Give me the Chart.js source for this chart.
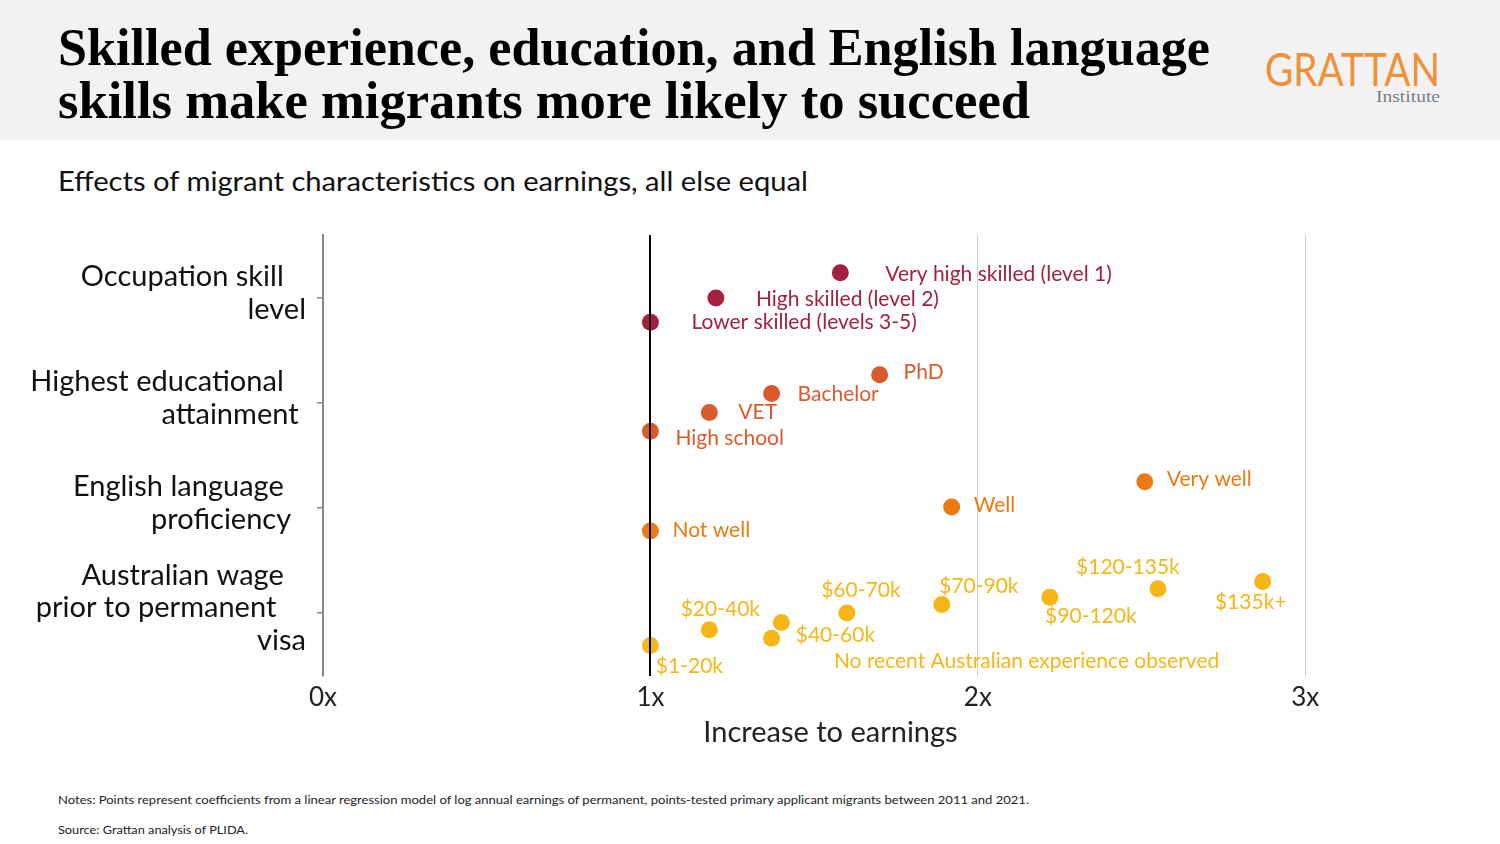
<!DOCTYPE html>
<html>
<head>
<meta charset="utf-8">
<script src="https://cdn.jsdelivr.net/npm/chart.js@4"></script>
<style>
  html, body { margin: 0; padding: 0; background: #fff; }
  body { width: 1500px; height: 844px; position: relative; overflow: hidden; font-family: Lato, "Noto Sans", sans-serif; color: #111; }
  .band { position: absolute; left: 0; top: 0; width: 1500px; height: 140px; background: #f2f2f2; }
  .fit { position: absolute; white-space: nowrap; transform-origin: 0 0; }
  .title { font-family: "Liberation Serif", serif; font-weight: bold; font-size: 53px; line-height: 53px; color: #000; left: 58px; }
  .logo { font-family: Lato, sans-serif; font-weight: 400; font-size: 46px; line-height: 1.2; color: #f0913a; left: 1265px; top: 41px; }
  .inst { font-family: "Liberation Serif", serif; font-size: 17px; line-height: 17px; color: #7b8087; left: 1376px; top: 88px; }
  .sub { font-size: 26px; line-height: 1.2; left: 58px; top: 166px; color: #111; }
  .note { font-size: 12px; line-height: 1.2; left: 58px; color: #222; }
  #wrap { position: absolute; left: 0; top: 220px; width: 1500px; height: 540px; }
</style>
</head>
<body>
<div class="band"></div>
<div class="fit title" data-w="1152" style="top:21px">Skilled experience, education, and English language</div>
<div class="fit title" data-w="972" style="top:74px">skills make migrants more likely to succeed</div>
<div class="fit logo" data-w="175">GRATTAN</div>
<div class="fit inst" data-w="64">Institute</div>
<div class="fit sub" data-w="750">Effects of migrant characteristics on earnings, all else equal</div>
<div id="wrap"><canvas id="chart"></canvas></div>
<div class="fit note" data-w="971" style="top:793px">Notes: Points represent coefficients from a linear regression model of log annual earnings of permanent, points-tested primary applicant migrants between 2011 and 2021.</div>
<div class="fit note" data-w="190" style="top:823px">Source: Grattan analysis of PLIDA.</div>

<script>
// categories on the y axis (bottom to top)
const categoryNames = [
  ["Australian wage   ", "prior to permanent    ", "visa"],
  ["English language   ", "proficiency  "],
  ["Highest educational   ", "attainment "],
  ["Occupation skill   ", "level"]
];
const categoryPos = [0, 1, 2, 3];
const xTicks = [0, 1, 2, 3];

// occupation skill level
const occLabels = ["Very high skilled (level 1)", "High skilled (level 2)", "Lower skilled (levels 3-5)"];
const occX = [1.58, 1.20, 1.0];
const occY = [3.24, 3.0, 2.77];

// highest educational attainment
const eduLabels = ["PhD", "Bachelor", "VET", "High school"];
const eduX = [1.70, 1.37, 1.18, 1.0];
const eduY = [2.27, 2.09, 1.91, 1.73];

// english proficiency
const engLabels = ["Very well", "Well", "Not well"];
const engX = [2.51, 1.92, 1.0];
const engY = [1.25, 1.01, 0.78];

// australian wage before permanent visa
const wageLabels = ["$135k+", "$120-135k", "$90-120k", "$70-90k", "$60-70k", "$40-60k", "$20-40k",
  "No recent Australian experience observed", "$1-20k"];
const wageX = [2.87, 2.55, 2.22, 1.89, 1.60, 1.40, 1.18, 1.37, 1.0];
const wageY = [0.30, 0.23, 0.15, 0.08, 0.0, -0.09, -0.16, -0.24, -0.31];

// label placement relative to each point: [dx, dy, align]
const occPlace = [[45, 1, "left"], [40, 1, "left"], [41, 0, "left"]];
const eduPlace = [[24, -2, "left"], [26, 1, "left"], [29, 0, "left"], [25, 7, "left"]];
const engPlace = [[22, -3, "left"], [22, -2, "left"], [22, -1, "left"]];
const wagePlace = [[-12, 21, "center"], [-30, -22, "center"], [41, 19, "center"], [37, -18, "center"],
  [14, -23, "center"], [54, 13, "center"], [11, -21, "center"], [255, 23, "center"], [39, 21, "center"]];

function fitAll() {
  document.querySelectorAll(".fit").forEach(el => {
    const target = parseFloat(el.dataset.w);
    const w = el.getBoundingClientRect().width;
    if (w > 0) el.style.transform = "scaleX(" + (target / w) + ")";
  });
}

function pts(xs, ys) {
  return xs.map((x, i) => ({ x: x, y: ys[i] }));
}

function makeSet(name, xs, ys, labels, place, color) {
  return {
    label: name,
    data: pts(xs, ys),
    names: labels,
    place: place,
    backgroundColor: color,
    borderWidth: 0,
    pointRadius: 8.5,
    pointHoverRadius: 8.5
  };
}

const pointLabels = {
  id: "pointLabels",
  afterDatasetsDraw(chart) {
    const ctx = chart.ctx;
    const xs = chart.scales.x;
    // the 1x reference line sits over the points
    const x1 = Math.round(xs.getPixelForValue(1));
    ctx.save();
    ctx.strokeStyle = "#000";
    ctx.lineWidth = 2;
    ctx.beginPath();
    ctx.moveTo(x1, chart.chartArea.top);
    ctx.lineTo(x1, chart.chartArea.bottom);
    ctx.stroke();

    ctx.font = "21px Lato, sans-serif";
    ctx.textBaseline = "middle";
    chart.data.datasets.forEach((ds, di) => {
      const meta = chart.getDatasetMeta(di);
      ctx.fillStyle = ds.backgroundColor;
      meta.data.forEach((el, i) => {
        const p = ds.place[i];
        ctx.textAlign = p[2];
        ctx.fillText(ds.names[i], el.x + p[0], el.y + p[1]);
      });
    });
    ctx.restore();
  }
};

document.addEventListener("DOMContentLoaded", function() {
  fitAll();
  const ctx = document.getElementById("chart").getContext("2d");
  new Chart(ctx, {
    type: "scatter",
    data: {
      datasets: [
        makeSet("Occupation", occX, occY, occLabels, occPlace, "#a3213f"),
        makeSet("Education", eduX, eduY, eduLabels, eduPlace, "#d95b2b"),
        makeSet("English", engX, engY, engLabels, engPlace, "#eb7a10"),
        makeSet("Wage", wageX, wageY, wageLabels, wagePlace, "#f5b617")
      ]
    },
    options: {
      responsive: true,
      maintainAspectRatio: false,
      animation: false,
      events: [],
      layout: { padding: { top: 15, right: 162, left: 0, bottom: 0 } },
      plugins: { legend: { display: false }, tooltip: { enabled: false } },
      scales: {
        x: {
          type: "linear",
          min: 0,
          max: 3.1,
          afterBuildTicks: s => { s.ticks = xTicks.map(v => ({ value: v })); },
          afterFit: s => { s.height = 84; s.paddingLeft = 0; s.paddingRight = 0; },
          grid: {
            drawTicks: false,
            color: c => (c.tick && (c.tick.value === 2 || c.tick.value === 3)) ? "#cccccc" : "rgba(0,0,0,0)",
            lineWidth: 1
          },
          border: { display: false },
          ticks: {
            padding: 6,
            color: "#222",
            font: { family: "Lato", size: 26 },
            callback: v => v + "x"
          },
          title: {
            display: true,
            text: "Increase to earnings",
            color: "#222",
            font: { family: "Lato", size: 29 },
            padding: { top: 0, bottom: 10 }
          }
        },
        y: {
          type: "linear",
          min: -0.6,
          max: 3.6,
          afterBuildTicks: s => { s.ticks = categoryPos.map(v => ({ value: v })); },
          afterFit: s => { s.width = 323; s.paddingTop = 0; s.paddingBottom = 0; },
          grid: { drawOnChartArea: false, drawTicks: true, tickLength: 6, color: "#888", lineWidth: 1.5 },
          border: { display: true, color: "#888", width: 2 },
          ticks: {
            padding: 11,
            labelOffset: -5,
            color: "#111",
            font: { family: "Lato", size: 29, lineHeight: 1.13 },
            callback: v => categoryNames[categoryPos.indexOf(v)]
          }
        }
      }
    },
    plugins: [pointLabels]
  });
});
</script>
</body>
</html>
